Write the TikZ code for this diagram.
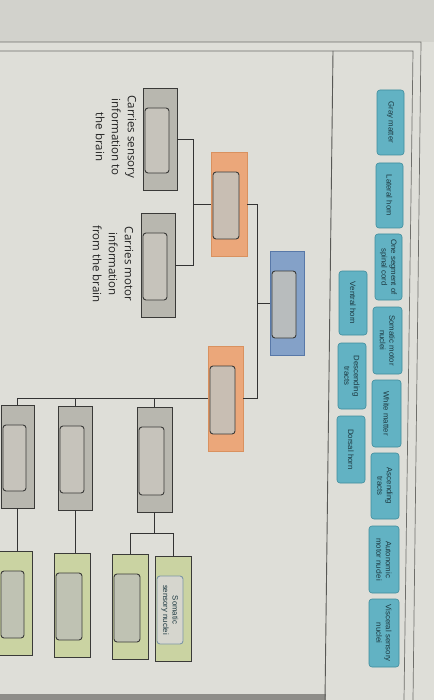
\documentclass[tikz,border=0pt]{standalone}
\usepackage{fontspec}
\setmainfont{Open Sans}
\newfontfamily\btnfont{Liberation Sans}
\definecolor{bgc}{HTML}{DEDED8}
\definecolor{topc}{HTML}{D2D2CC}
\definecolor{framec}{HTML}{6E6E6A}
\definecolor{edgec}{HTML}{3A3A38}
\definecolor{linec}{HTML}{333333}
\definecolor{grayout}{HTML}{B8B7AF}
\definecolor{grayin}{HTML}{C6C3BB}
\definecolor{orout}{HTML}{EBA77A}
\definecolor{oredge}{HTML}{D9915F}
\definecolor{orin}{HTML}{C8BEB3}
\definecolor{blout}{HTML}{84A1C8}
\definecolor{bledge}{HTML}{5878A8}
\definecolor{blin}{HTML}{B8BCBD}
\definecolor{grout}{HTML}{CAD3A2}
\definecolor{grin}{HTML}{BFC2B3}
\definecolor{placed}{HTML}{D6D6CE}
\definecolor{placededge}{HTML}{7D96A6}
\definecolor{btnfill}{HTML}{62B2C3}
\definecolor{btnedge}{HTML}{3F8C9C}
\definecolor{btntext}{HTML}{1C3840}
\definecolor{notec}{HTML}{222222}
\definecolor{bezel}{HTML}{8E8D89}
\newcommand\mycard[7]{%
  \node[outer,#6,minimum width={(#4-#2)*1pt},minimum height={(#5-#3)*1pt},anchor=north west] (#1) at (#2,#3) {};
  \node[innerbox,#7,minimum width={(#4-#2-10)*1pt},minimum height={(#5-#3-37)*1pt},anchor=north west] (#1i) at (#2+2,#3+20) {};}
\newcommand\mybtn[6]{%
  \node[btn,rotate=-90,minimum width={(#5-#3)*1pt},minimum height={(#4-#2)*1pt}] (#1) at ({(#2+#4)/2},{(#3+#5)/2}) {#6};}
\begin{document}
\begin{tikzpicture}[x=1pt,y=-1pt,
  conn/.style={draw=linec, line width=0.9pt},
  outer/.style={draw=edgec, line width=0.9pt, inner sep=0pt, outer sep=0pt},
  innerbox/.style={draw=edgec, line width=0.9pt, rounded corners=3pt, inner sep=0pt, outer sep=0pt},
  grayc/.style={fill=grayout},
  orc/.style={fill=orout, draw=oredge},
  blc/.style={fill=blout, draw=bledge},
  grc/.style={fill=grout},
  btn/.style={draw=btnedge, fill=btnfill, rounded corners=3pt, line width=0.6pt,
    font=\btnfont\fontsize{7.8}{9.5}\selectfont, text=btntext, align=center, inner sep=0pt},
  note/.style={font=\fontsize{11.5}{16}\selectfont, text=notec, align=center, rotate=-90}]
\useasboundingbox (0,0) rectangle (434,700);
\fill[bgc] (0,0) rectangle (434,700);
\fill[topc] (0,0) rectangle (434,42);
\fill[bezel] (0,694) rectangle (326,700);
% frame lines
\draw[framec, line width=0.7pt] (0,42) -- (421,42) -- (413,700);
\draw[framec, line width=0.7pt] (0,51) -- (413,51) -- (404,700);
\draw[framec!80!black, line width=0.9pt] (333,51) -- (325,700);
% cards
\mycard{g1}{143}{88}{177}{190}{grayc}{fill=grayin}
\mycard{g2}{141}{213}{175}{317}{grayc}{fill=grayin}
\mycard{o1}{211}{152}{247}{256}{orc}{fill=orin}
\mycard{b}{270}{251}{304}{355}{blc}{fill=blin}
\mycard{o2}{208}{346}{243}{451}{orc}{fill=orin}
\mycard{a}{1}{405}{34}{508}{grayc}{fill=grayin}
\mycard{bb}{58}{406}{92}{510}{grayc}{fill=grayin}
\mycard{c}{137}{407}{172}{512}{grayc}{fill=grayin}
\mycard{ga}{-1}{551}{32}{655}{grc}{fill=grin}
\mycard{gb}{54}{553}{90}{657}{grc}{fill=grin}
\mycard{gc1}{112}{554}{148}{659}{grc}{fill=grin}
\mycard{gc2}{155}{556}{191}{661}{grc}{fill=placed,draw=placededge}
\node[rotate=-90, font=\btnfont\fontsize{7.8}{9.5}\selectfont, align=center, text=btntext] (ssn) at (gc2i.center) {Somatic\\sensory nuclei};
% connectors
\draw[conn] (g1.east) -| ([xshift=-18pt]o1.west) -- (o1.west);
\draw[conn] (g2.east) -| ([xshift=-18pt]o1.west);
\draw[conn] (o1.east) -| ([xshift=-13pt]b.west) -- (b.west);
\draw[conn] ([xshift=-13pt]b.west) |- (o2.east);
\draw[conn] (o2.west) -- (o2.west -| a.north) -- (a.north);
\draw[conn] (o2.west -| bb.north) -- (bb.north);
\draw[conn] (o2.west -| c.north) -- (c.north);
\draw[conn] (a.south) -- (a.south |- ga.north);
\draw[conn] (bb.south) -- (bb.south |- gb.north);
\coordinate (cj) at ([yshift=-21pt]c.south);
\draw[conn] (c.south) -- (cj);
\draw[conn] (gc1.north) -- (cj -| gc1.north) -- (cj -| gc2.north) -- (gc2.north);
% notes
\node[note] (ns) at (116,137) {Carries sensory\\information to\\the brain};
\node[note] (nm) at (113,264) {Carries motor\\information\\from the brain};
% buttons
\mybtn{gm}{377}{90}{404}{155}{Gray matter}
\mybtn{lh}{376}{163}{403}{228}{Lateral horn}
\mybtn{os}{375}{234}{402}{300}{One segment of\\spinal cord}
\mybtn{sm}{373}{307}{402}{374}{Somatic motor\\nuclei}
\mybtn{wm}{372}{380}{401}{447}{White matter}
\mybtn{at}{371}{453}{399}{519}{Ascending\\tracts}
\mybtn{am}{369}{526}{399}{593}{Autonomic\\motor nuclei}
\mybtn{vs}{369}{599}{399}{667}{Visceral sensory\\nuclei}
\mybtn{vh}{339}{271}{367}{335}{Ventral horn}
\mybtn{dt}{338}{343}{366}{409}{Descending\\tracts}
\mybtn{dh}{337}{416}{365}{483}{Dorsal horn}
\end{tikzpicture}
\end{document}
